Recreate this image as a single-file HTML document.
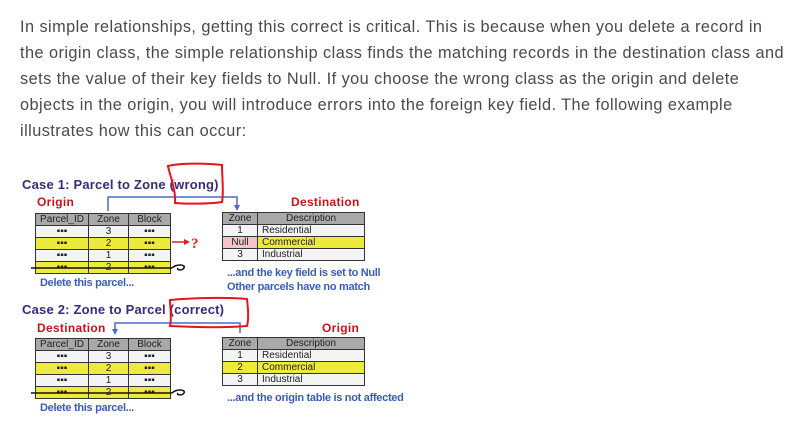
<!DOCTYPE html>
<html><head><style>
body{margin:0;width:785px;height:425px;background:#fff;overflow:hidden;position:relative;font-family:"Liberation Sans",sans-serif}
.p{position:absolute;left:20px;top:14px;width:800px;font-size:16.3px;line-height:26px;color:#4a4a4a;white-space:nowrap;letter-spacing:0.45px}
.a{position:absolute;white-space:nowrap}
.t{font-weight:bold;font-size:13px;color:#3a2a78;letter-spacing:0.2px}
.r{font-weight:bold;font-size:12px;color:#c4141c;letter-spacing:0.3px}
.b{font-weight:bold;font-size:11px;color:#3c5cb4;letter-spacing:-0.3px}
table{position:absolute;border-collapse:collapse;font-size:10px;color:#222}
td{border:1px solid #333;height:11px;padding:0;text-align:center;line-height:11px}
.h td{background:#a9a9a9}
.w td{background:#f4f4f4}
.y td{background:#eeea3c}
td.l{text-align:left;padding-left:4px}
</style></head><body>
<div class="p">In simple relationships, getting this correct is critical. This is because when you delete a record in<br>the origin class, the simple relationship class finds the matching records in the destination class and<br>sets the value of their key fields to Null. If you choose the wrong class as the origin and delete<br>objects in the origin, you will introduce errors into the foreign key field. The following example<br>illustrates how this can occur:</div>

<div class="a t" style="left:22px;top:177px">Case 1: Parcel to Zone (wrong)</div>
<div class="a r" style="left:37px;top:195px">Origin</div>
<div class="a r" style="left:291px;top:195px">Destination</div>
<table style="left:35px;top:213px;width:136px">
<tr class="h"><td style="width:52px">Parcel_ID</td><td style="width:39px">Zone</td><td>Block</td></tr>
<tr class="w"><td>▪▪▪</td><td>3</td><td>▪▪▪</td></tr>
<tr class="y"><td>▪▪▪</td><td>2</td><td>▪▪▪</td></tr>
<tr class="w"><td>▪▪▪</td><td>1</td><td>▪▪▪</td></tr>
<tr class="y"><td>▪▪▪</td><td>2</td><td>▪▪▪</td></tr>
</table>
<table style="left:222px;top:212px;width:143px">
<tr class="h"><td style="width:34px">Zone</td><td>Description</td></tr>
<tr class="w"><td>1</td><td class="l">Residential</td></tr>
<tr class="y"><td style="background:#f4c4c8">Null</td><td class="l">Commercial</td></tr>
<tr class="w"><td>3</td><td class="l">Industrial</td></tr>
</table>
<div class="a b" style="left:40px;top:277px">Delete this parcel...</div>
<div class="a b" style="left:227px;top:267px">...and the key field is set to Null</div>
<div class="a b" style="left:227px;top:281px">Other parcels have no match</div>

<div class="a t" style="left:22px;top:302px">Case 2: Zone to Parcel (correct)</div>
<div class="a r" style="left:37px;top:321px">Destination</div>
<div class="a r" style="left:322px;top:321px">Origin</div>
<table style="left:35px;top:338px;width:136px">
<tr class="h"><td style="width:52px">Parcel_ID</td><td style="width:39px">Zone</td><td>Block</td></tr>
<tr class="w"><td>▪▪▪</td><td>3</td><td>▪▪▪</td></tr>
<tr class="y"><td>▪▪▪</td><td>2</td><td>▪▪▪</td></tr>
<tr class="w"><td>▪▪▪</td><td>1</td><td>▪▪▪</td></tr>
<tr class="y"><td>▪▪▪</td><td>2</td><td>▪▪▪</td></tr>
</table>
<table style="left:222px;top:337px;width:143px">
<tr class="h"><td style="width:34px">Zone</td><td>Description</td></tr>
<tr class="w"><td>1</td><td class="l">Residential</td></tr>
<tr class="y"><td>2</td><td class="l">Commercial</td></tr>
<tr class="w"><td>3</td><td class="l">Industrial</td></tr>
</table>
<div class="a b" style="left:40px;top:402px">Delete this parcel...</div>
<div class="a b" style="left:227px;top:392px">...and the origin table is not affected</div>

<svg class="a" style="left:0;top:0" width="785" height="425">
<g fill="none" stroke="#4a6cc0" stroke-width="1.5">
<path d="M108 211V197H237V206"/>
<path d="M240 333V323H115V330"/>
</g>
<g fill="#4a6cc0"><path d="M234 205L240 205L237 211Z"/><path d="M112 329L118 329L115 335Z"/></g>
<path d="M172 242H185" stroke="#e02020" stroke-width="1.5"/><path d="M184 239L190 242L184 245Z" fill="#e02020"/>
<text x="191" y="248" font-family="Liberation Serif,serif" font-weight="bold" font-size="15" fill="#e02020">?</text>
<g stroke="#111" stroke-width="1.5" fill="none">
<path d="M31 268H172"/><path d="M172 268C176 264 186 264 184 268C182 271 176 270 178 268"/>
<path d="M31 393H172"/><path d="M172 393C176 389 186 389 184 393C182 396 176 395 178 393"/>
</g>
<g stroke="#e8141c" stroke-width="2" fill="none">
<path d="M168 166C180 163 205 163 222 165C222 178 224 192 222 202C210 204 185 204 175 203C176 190 170 176 168 166Z"/>
<path d="M170 300C190 298 225 297 247 299C248 308 249 318 247 326C225 328 190 327 170 326C172 318 170 308 170 300Z"/>
</g>
</svg>
</body></html>
